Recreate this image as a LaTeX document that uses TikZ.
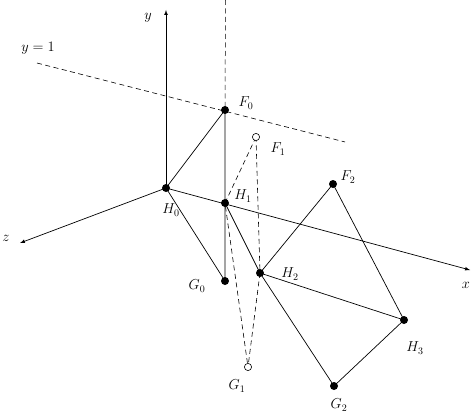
\documentclass[tikz,border=0pt]{standalone}
\usepackage{amsmath}
\tikzset{
  dot/.style={fill=black},
  hollow/.style={draw=black,fill=white,line width=0.6pt},
  guide/.style={line width=0.6pt,dash pattern=on 5pt off 3.5pt},
  edge/.style={line width=0.7pt},
  lbl/.style={font=\fontsize{14}{16}\selectfont},
}
\begin{document}
\begin{tikzpicture}[x=1pt,y=-1pt]
		\useasboundingbox (0,0) rectangle (474,412);
		% points
		\coordinate (H0) at (166,188);
		\coordinate (H1) at (225,203);
		\coordinate (H2) at (260,273);
		\coordinate (H3) at (404,320);
		\coordinate (F0) at (225,110);
		\coordinate (F1) at (256,137);
		\coordinate (F2) at (333,184);
		\coordinate (G0) at (225,281);
		\coordinate (G1) at (248,367);
		\coordinate (G2) at (334,386);
		\coordinate (xtip) at (470,270);
		\coordinate (ytip) at (166,10);
		\coordinate (ztip) at (20,243);
		\coordinate (top) at (225.5,0);
		\coordinate (lineA) at (37,63);
		\coordinate (lineB) at (345,142);
		% axes
		\draw[edge, -latex] (H0) -- (xtip);
		\draw[edge, -latex] (H0) -- (ytip);
		\draw[edge, -latex] (H0) -- (ztip);
		\node[lbl] at (148,18) {$y$};
		\node[lbl] at (466,285) {$x$};
		\node[lbl] at (6,238) {$z$};
		% dashed guides
		\draw[guide] (lineA) -- (lineB);
		\node[lbl] at (38,48) {$y=1$};
		\draw[guide, line width=0.5pt] (top) -- (F0);
		\draw[guide] (F1) -- (H1) -- (G1);
		\draw[guide] (F1) -- (H2) -- (G1);
		% solid segments
		\draw[edge] (H0) -- (F0) -- (H1) -- (G0) -- (H0);
		\draw[edge] (H1) -- (H2) -- (F2) -- (H3) -- (G2) -- (H2) -- (H3);
		% points
		\foreach \p in {H0,H1,H2,H3,F0,F2,G0,G2}
			\fill[dot] (\p) circle (4);
		\foreach \p in {F1,G1}
			\draw[hollow] (\p) circle (3.6);
		% labels
		\node[lbl] at (171,210) {$H_0$};
		\node[lbl] at (243,196) {$H_1$};
		\node[lbl] at (290,274) {$H_2$};
		\node[lbl] at (415,348) {$H_3$};
		\node[lbl] at (246,103) {$F_0$};
		\node[lbl] at (278,149) {$F_1$};
		\node[lbl] at (348,177) {$F_2$};
		\node[lbl] at (197,286) {$G_0$};
		\node[lbl] at (237,386) {$G_1$};
		\node[lbl] at (339,405) {$G_2$};
	\end{tikzpicture}
\end{document}
